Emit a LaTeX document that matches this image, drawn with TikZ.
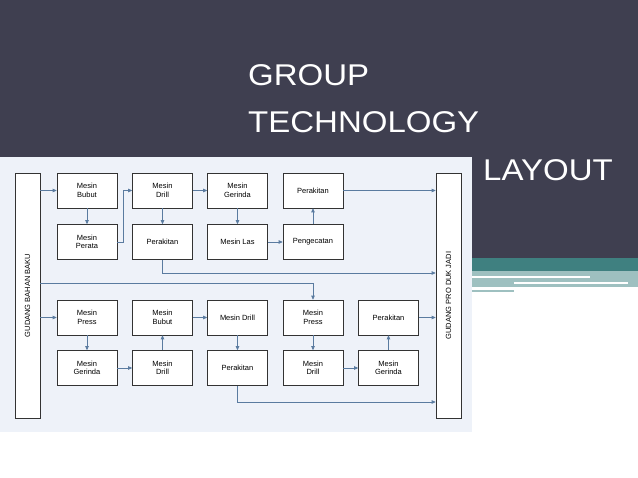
\documentclass[tikz,border=0pt]{standalone}
\usepackage{fontspec}
\setmainfont{Liberation Sans}
\usetikzlibrary{arrows.meta}
\definecolor{dark}{HTML}{3F3F50}
\definecolor{teal1}{HTML}{3F8080}
\definecolor{teal2}{HTML}{9EC0C0}
\definecolor{panel}{HTML}{EEF2F9}
\definecolor{arr}{HTML}{5A7BA0}
\begin{document}
\begin{tikzpicture}[x=1pt,y=-1pt,
  box/.style={draw=black!80,fill=white,line width=0.6pt,minimum width=60pt,minimum height=35pt,inner sep=1pt,align=center,font=\fontsize{7.5}{8.5}\selectfont},
  gud/.style={draw=black!80,fill=white,line width=0.6pt,minimum width=25pt,minimum height=245pt},
  ar/.style={draw=arr,line width=0.7pt,-{Triangle[length=4pt,width=3.5pt]}},
  title/.style={text=white,font=\fontsize{30}{32}\selectfont,anchor=base west,inner sep=0pt,xscale=1.1}]
\useasboundingbox (0,0) rectangle (638,478);
\fill[white] (0,0) rectangle (638,478);
\fill[dark] (0,0) rectangle (638,258);
\fill[teal1] (472,258) rectangle (638,271);
\fill[teal2] (472,271) rectangle (638,287);
\draw[white,line width=1.2pt] (472,277) -- (590,277);
\draw[white,line width=1.2pt] (514,283) -- (628,283);
\draw[teal2,line width=1.5pt] (472,291) -- (514,291);
\fill[panel] (0,157) rectangle (472,432);
\node[title] (t1) at (248,86) {GROUP};
\node[title] (t2) at (248,133) {TECHNOLOGY};
\node[title] (t3) at (483,181) {LAYOUT};
\node[gud] (gl) at (27.5,295.5) {};
\node[rotate=90,font=\fontsize{7.5}{8.5}\selectfont] at (gl) {GUDANG BAHAN BAKU};
\node[gud] (gr) at (448.5,295.5) {};
\node[rotate=90,font=\fontsize{7.5}{8.5}\selectfont] at (gr) {GUDANG PRO DUK JADI};
% row1
\node[box] (a1) at (87,190.5) {Mesin\\Bubut};
\node[box] (a2) at (162.5,190.5) {Mesin\\Drill};
\node[box] (a3) at (237.5,190.5) {Mesin\\Gerinda};
\node[box] (a4) at (313,190.5) {Perakitan};
% row2
\node[box] (b1) at (87,242) {Mesin\\Perata};
\node[box] (b2) at (162.5,242) {Perakitan};
\node[box] (b3) at (237.5,242) {Mesin Las};
\node[box] (b4) at (313,242) {Pengecatan};
% row3
\node[box] (c1) at (87,317.5) {Mesin\\Press};
\node[box] (c2) at (162.5,317.5) {Mesin\\Bubut};
\node[box] (c3) at (237.5,317.5) {Mesin Drill};
\node[box] (c4) at (313,317.5) {Mesin\\Press};
\node[box] (c5) at (388.5,317.5) {Perakitan};
% row4
\node[box] (d1) at (87,368) {Mesin\\Gerinda};
\node[box] (d2) at (162.5,368) {Mesin\\Drill};
\node[box] (d3) at (237.5,368) {Perakitan};
\node[box] (d4) at (313,368) {Mesin\\Drill};
\node[box] (d5) at (388.5,368) {Mesin\\Gerinda};
% arrows top
\draw[ar] (gl.east|-a1) -- (a1);
\draw[ar] (a1) -- (b1);
\draw[ar] (b1.east) -- ++(6,0) |- (a2.west);
\draw[ar] (a2) -- (a3);
\draw[ar] (a2) -- (b2);
\draw[ar] (a3) -- (b3);
\draw[ar] (b3) -- (b4);
\draw[ar] (b4) -- (a4);
\draw[ar] (a4) -- (gr.west|-a4);
\draw[ar] (b2.south) |- (gr.west|-0,273);
% bottom
\coordinate (split) at (gl.east|-0,283);
\draw[ar] (split) -| (c4.north);
\draw[ar] (gl.east|-c1) -- (c1);
\draw[ar] (c1) -- (d1);
\draw[ar] (d1) -- (d2);
\draw[ar] (d2) -- (c2);
\draw[ar] (c2) -- (c3);
\draw[ar] (c3) -- (d3);
\draw[ar] (c4) -- (d4);
\draw[ar] (d4) -- (d5);
\draw[ar] (d5) -- (c5);
\draw[ar] (c5) -- (gr.west|-c5);
\draw[ar] (d3.south) |- (gr.west|-0,402);
\end{tikzpicture}
\end{document}
